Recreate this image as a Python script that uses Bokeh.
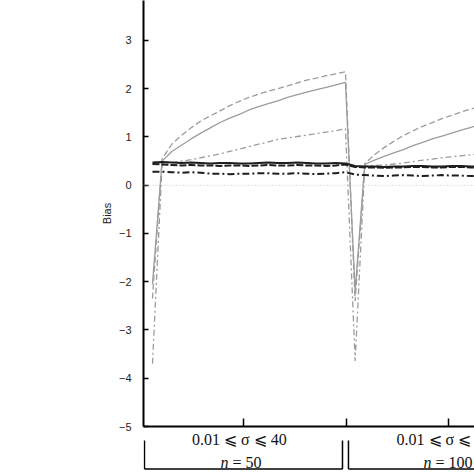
from bokeh.plotting import figure
from bokeh.layouts import column
from bokeh.models import FixedTicker, Span, ColumnDataSource, Range1d
from bokeh.core.properties import value
from bokeh.embed import file_html
from bokeh.resources import INLINE

# ---- data ----
# point index across both panels: panel 1 = 0..20 (n = 50), panel 2 = 21.. (n = 100)
pos = list(range(35))

gray_dashed = [-2.35, 0.55, 0.85, 1.03, 1.19, 1.33, 1.44, 1.54, 1.65, 1.74, 1.82,
               1.89, 1.95, 2.00, 2.06, 2.12, 2.18, 2.22, 2.27, 2.31, 2.35,
               -2.40, 0.45, 0.63, 0.78, 0.91, 1.03, 1.13, 1.22, 1.30, 1.38,
               1.45, 1.52, 1.58, 1.64]
gray_solid = [-2.05, 0.50, 0.70, 0.83, 0.96, 1.08, 1.19, 1.30, 1.39, 1.47, 1.56,
              1.63, 1.69, 1.75, 1.82, 1.88, 1.93, 1.98, 2.03, 2.08, 2.13,
              -2.20, 0.43, 0.52, 0.60, 0.67, 0.74, 0.82, 0.89, 0.96, 1.02,
              1.08, 1.14, 1.20, 1.26]
gray_dashdot = [-3.70, 0.45, 0.47, 0.50, 0.53, 0.57, 0.61, 0.65, 0.70, 0.75, 0.80,
                0.85, 0.90, 0.95, 0.98, 1.01, 1.04, 1.07, 1.10, 1.13, 1.17,
                -3.64, 0.40, 0.41, 0.42, 0.44, 0.46, 0.49, 0.52, 0.54, 0.57,
                0.59, 0.61, 0.63, 0.65]
black_solid = [0.47, 0.48, 0.47, 0.46, 0.47, 0.46, 0.45, 0.46, 0.46, 0.45, 0.45,
               0.46, 0.47, 0.46, 0.46, 0.47, 0.46, 0.45, 0.45, 0.46, 0.45,
               0.40, 0.39, 0.39, 0.38, 0.39, 0.39, 0.40, 0.40, 0.39, 0.39,
               0.40, 0.40, 0.39, 0.39]
black_dashed = [0.44, 0.43, 0.42, 0.41, 0.42, 0.41, 0.41, 0.40, 0.41, 0.41, 0.40,
                0.41, 0.42, 0.41, 0.41, 0.42, 0.41, 0.41, 0.40, 0.41, 0.43,
                0.38, 0.37, 0.37, 0.36, 0.37, 0.37, 0.38, 0.38, 0.37, 0.37,
                0.38, 0.38, 0.37, 0.37]
black_dashdot = [0.28, 0.28, 0.27, 0.26, 0.27, 0.26, 0.24, 0.24, 0.23, 0.24, 0.24,
                 0.25, 0.25, 0.24, 0.24, 0.25, 0.24, 0.23, 0.24, 0.25, 0.27,
                 0.22, 0.21, 0.20, 0.19, 0.20, 0.21, 0.20, 0.19, 0.20, 0.21,
                 0.20, 0.20, 0.19, 0.20]

y_ticks = [-5, -4, -3, -2, -1, 0, 1, 2, 3]
x_ticks = [9.4, 20.1, 30.7]
panel_label_x = [9.0, 30.2]
panel_sigma_labels = ["0.01 ⩽ σ ⩽ 40", "0.01 ⩽ σ ⩽ 40"]
panel_n_x = [7.05, 28.08]
panel_n_values = ["= 50", "= 100"]
panel_left = [-0.83, 20.31]
panel_right = [19.69, 41.0]

W = 474
LEFT = 143
x_range = Range1d(-0.93, 33.37)

# ---- main plot ----
p = figure(width=W, height=432, output_backend="svg", toolbar_location=None,
           x_range=x_range, y_range=(-5, 3.829),
           min_border_left=LEFT, min_border_right=0, min_border_top=0,
           min_border_bottom=6)
p.outline_line_color = None
p.grid.visible = False

src = ColumnDataSource(dict(x=pos, gd=gray_dashed, gs=gray_solid, gdd=gray_dashdot,
                            bs=black_solid, bd=black_dashed, bdd=black_dashdot))

p.add_layout(Span(location=0, dimension="width", line_color="#c4c4c4",
                  line_width=1.2, line_dash="1 2"))

gray = "#9c9c9c"
p.line("x", "gd", source=src, line_color=gray, line_width=1.3, line_dash="6 3")
p.line("x", "gs", source=src, line_color=gray, line_width=1.3)
p.line("x", "gdd", source=src, line_color=gray, line_width=1.3, line_dash="6 3 2 3")

blk = "#1e1e1e"
p.line("x", "bs", source=src, line_color=blk, line_width=2.0)
p.line("x", "bd", source=src, line_color=blk, line_width=2.0, line_dash="7 2")
p.line("x", "bdd", source=src, line_color=blk, line_width=2.0, line_dash="7 3 2 3")

ya = p.yaxis[0]
ya.ticker = FixedTicker(ticks=y_ticks)
ya.major_label_overrides = {t: (("\u2212" + str(-t)) if t < 0 else str(t)) for t in y_ticks}
ya.axis_label = "Bias"
ya.axis_label_text_font = "Liberation Sans"
ya.axis_label_text_font_style = "normal"
ya.axis_label_text_font_size = "11px"
ya.axis_label_text_color = "#222222"
ya.axis_label_standoff = 3
ya.major_label_text_font = "Liberation Sans"
ya.major_label_text_font_size = "11px"
ya.major_label_text_color = "#222222"
ya.major_label_standoff = 12
ya.major_tick_in = 5
ya.major_tick_out = 0
ya.minor_tick_line_color = None
ya.axis_line_width = 2
ya.major_tick_line_width = 1.5

xa = p.xaxis[0]
xa.ticker = FixedTicker(ticks=[], minor_ticks=x_ticks)
xa.minor_tick_in = 8
xa.minor_tick_out = 0
xa.minor_tick_line_color = "black"
xa.minor_tick_line_width = 1.5
xa.major_tick_line_color = None
xa.axis_line_width = 2

# ---- panel labels and brackets below the axis ----
q = figure(width=W, height=42, output_backend="svg", toolbar_location=None,
           x_range=x_range, y_range=(-5.995, -5.1244),
           x_axis_type=None, y_axis_type=None,
           min_border_left=LEFT, min_border_right=0, min_border_top=0,
           min_border_bottom=0)
q.outline_line_color = None
q.grid.visible = False

y_top, y_bot = -5.29, -5.88
q.segment(x0=panel_left, y0=[y_top] * 2, x1=panel_left, y1=[y_bot] * 2,
          line_color="black", line_width=1.5)
q.segment(x0=panel_right, y0=[y_top] * 2, x1=panel_right, y1=[y_bot] * 2,
          line_color="black", line_width=1.5)
q.segment(x0=panel_left, y0=[y_bot] * 2, x1=panel_right, y1=[y_bot] * 2,
          line_color="black", line_width=1.5)

q.text(x=panel_label_x, y=[-5.27] * 2, text=panel_sigma_labels,
       text_font=value("Liberation Serif"), text_font_size=value("16px"),
       text_align="center", text_baseline="alphabetic", text_color="#111111")
q.text(x=panel_n_x, y=[-5.75] * 2, text=["n", "n"],
       text_font=value("Liberation Serif"), text_font_size=value("16px"),
       text_font_style="italic", text_align="left", text_baseline="alphabetic",
       text_color="#111111")
q.text(x=panel_n_x, y=[-5.75] * 2, x_offset=12, text=panel_n_values,
       text_font=value("Liberation Serif"), text_font_size=value("16px"),
       text_align="left", text_baseline="alphabetic", text_color="#111111")

layout = column(p, q, spacing=0)
open("out.html", "w").write(file_html(layout, INLINE))
